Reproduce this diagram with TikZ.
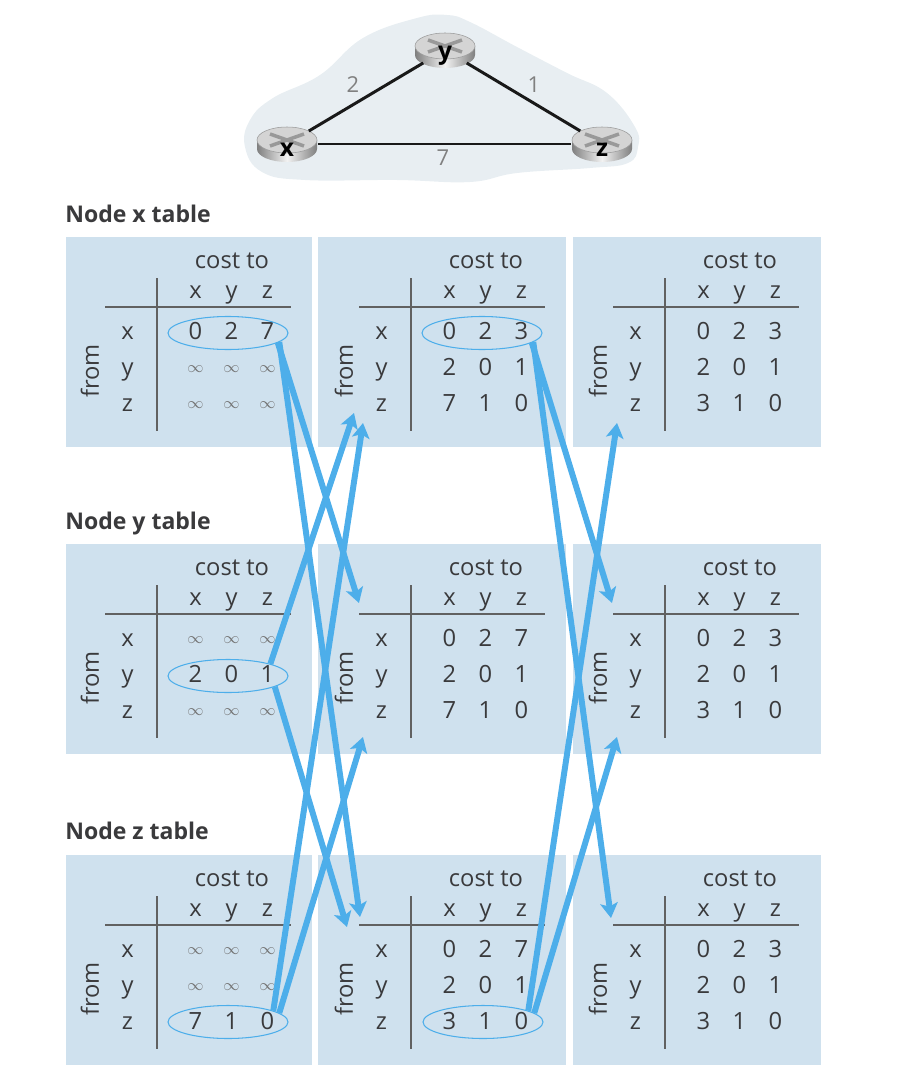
\documentclass[tikz,border=0pt]{standalone}
\usepackage{fontspec}
\setmainfont{Open Sans}
\usetikzlibrary{arrows.meta,shapes.geometric}
\definecolor{panelblue}{HTML}{CFE1EE}
\definecolor{cloudgray}{HTML}{E8EEF2}
\definecolor{arrowblue}{HTML}{4DAEEA}
\definecolor{inkgray}{HTML}{3A3A3C}
\tikzset{
	celltext/.style={anchor=base, text=inkgray, font=\fontsize{13.5}{15}\selectfont, inner sep=0pt},
	headtext/.style={anchor=base west, text=inkgray, font=\fontsize{13.1}{15}\selectfont\bfseries, inner sep=0pt},
	costtext/.style={text=black!50, font=\fontsize{12.5}{15}\selectfont, inner sep=0pt},
	rule/.style={draw=black!62, line width=0.9pt},
	oval/.style={draw=arrowblue, line width=0.6pt, shape=ellipse, minimum width=2.4cm, minimum height=0.66cm, inner sep=0pt},
	update/.style={draw=arrowblue, line width=3.4pt, -{Stealth[length=8.5pt,width=10pt,inset=2pt]}},
	link/.style={draw=black!90, line width=1.7pt},
	routerbase/.style={shape=ellipse, minimum width=1.22cm, minimum height=0.72cm, inner sep=0pt}
}
% one table: name, shift, rows as label/a/b/c/baseline
\def\costtable#1(#2,#3)#4{
	\begin{scope}[shift={(#2,#3)}]
		\node[celltext] (#1cost) at (232,268) {cost to};
		\node[celltext] (#1hx) at (195.5,298) {x};
		\node[celltext] (#1hy) at (231.5,298) {y};
		\node[celltext] (#1hz) at (267.5,298) {z};
		\draw[rule] (105,307) -- (291,307);
		\draw[rule] (157,278) -- (157,431);
		\node[celltext, anchor=center, rotate=90] (#1from) at (90,371) {from};
		\foreach \rowname/\vala/\valb/\valc/\ybase in {#4}{
			\node[celltext] (#1l\rowname) at (127.5,\ybase) {\rowname};
			\node[celltext] (#1a\rowname) at (195.5,\ybase) {\vala};
			\node[celltext] (#1b\rowname) at (231.5,\ybase) {\valb};
			\node[celltext] (#1c\rowname) at (267.5,\ybase) {\valc};
		}
	\end{scope}
}
\def\noval{\smash{\raisebox{1.2pt}{\color{black!55}\fontsize{9}{10}\selectfont$\infty$}}}
% router icon over its named node
\def\router#1(#2,#3)#4{
	\node[routerbase] (#1) at (#2,#3+4) {};
	\shade[left color=black!50, right color=black!50, middle color=black!5]
		(#2-30,#3) -- (#2-30,#3+9) arc (180:0:30 and 13) -- (#2+30,#3) arc (0:180:30 and 13) -- cycle;
	\draw[fill=black!17, draw=black!40, line width=0.3pt] (#2,#3) ellipse (30 and 13);
	\draw[black!40, line width=2pt] (#2-17,#3-6) -- (#2+17,#3+6);
	\draw[black!40, line width=2pt] (#2+17,#3-6) -- (#2-17,#3+6);
	\node[inner sep=0pt, font=\fontsize{14}{15}\selectfont\bfseries] (#1name) at (#2,#3+10) {#4};
}
\begin{document}
\begin{tikzpicture}[x=0.02cm, y=-0.02cm]
	\useasboundingbox (0,0) rectangle (915,1081);

	%%%%% network %%%%%
	\fill[cloudgray] plot[smooth cycle, tension=0.7] coordinates {(245,147) (250,120) (273,98) (320,75) (363,38) (417,18) (447,15) (470,22) (517,47) (567,73) (607,93) (635,127) (638,147) (628,163) (590,168) (517,173) (470,182) (397,180) (305,180) (262,172)};
	\router{x}(287,140){x}
	\router{y}(445,46){y}
	\router{z}(602,140){z}
	\draw[link] (x) -- (y);
	\draw[link] (y) -- (z);
	\draw[link] (x) -- (z);
	\node[costtext] (lxy) at (353,85) {2};
	\node[costtext] (lyz) at (534,85) {1};
	\node[costtext] (lxz) at (443,158) {7};

	%%%%% panels %%%%%
	\foreach \xa/\xb in {66/312, 318/566, 573/821}
		\foreach \ya/\yb in {237/447, 544/754, 855/1065}
			\fill[panelblue] (\xa,\ya) rectangle (\xb,\yb);

	\node[headtext] (headx) at (65,222) {Node x table};
	\node[headtext] (heady) at (65,529) {Node y table};
	\node[headtext] (headz) at (65,839) {Node z table};

	%%%%% tables %%%%%
	\costtable{ta}(0,0){x/0/2/7/339, y/\noval/\noval/\noval/375, z/\noval/\noval/\noval/411}
	\costtable{tb}(254,0){x/0/2/3/339, y/2/0/1/375, z/7/1/0/411}
	\costtable{tc}(508,0){x/0/2/3/339, y/2/0/1/375, z/3/1/0/411}

	\costtable{td}(0,307){x/\noval/\noval/\noval/339, y/2/0/1/375, z/\noval/\noval/\noval/411}
	\costtable{te}(254,307){x/0/2/7/339, y/2/0/1/375, z/7/1/0/411}
	\costtable{tf}(508,307){x/0/2/3/339, y/2/0/1/375, z/3/1/0/411}

	\costtable{tg}(0,618){x/\noval/\noval/\noval/339, y/\noval/\noval/\noval/375, z/7/1/0/411}
	\costtable{th}(254,618){x/0/2/7/339, y/2/0/1/375, z/3/1/0/411}
	\costtable{ti}(508,618){x/0/2/3/339, y/2/0/1/375, z/3/1/0/411}

	%%%%% ovals %%%%%
	\node[oval] (ovalx) at (228,333) {};
	\node[oval] (ovaly) at (228,676) {};
	\node[oval] (ovalz) at (228,1022) {};
	\node[oval] (ovalxb) at (482,333) {};
	\node[oval] (ovalzb) at (483,1022) {};

	\coordinate (tipa) at (354,413);
	\coordinate (tipb) at (363,423);
	\coordinate (tipc) at (617,423);
	\coordinate (tipd) at (359,603);
	\coordinate (tipe) at (612,603);
	\coordinate (tipf) at (363,737);
	\coordinate (tipg) at (617,737);
	\coordinate (tiph) at (347,927);
	\coordinate (tipi) at (360,917);
	\coordinate (tipj) at (611,918);

	%%%%% updates %%%%%
	\draw[update] (ovalx.-11) -- (tipd);
	\draw[update] (ovalx.-10) -- (tipi);
	\draw[update] (ovaly.16) -- (tipa);
	\draw[update] (ovaly.-13) -- (tiph);
	\draw[update] (ovalz.14) -- (tipb);
	\draw[update] (ovalz.10) -- (tipf);
	\draw[update] (ovalxb.-11) -- (tipe);
	\draw[update] (ovalxb.-10) -- (tipj);
	\draw[update] (ovalzb.14) -- (tipc);
	\draw[update] (ovalzb.10) -- (tipg);
\end{tikzpicture}
\end{document}
